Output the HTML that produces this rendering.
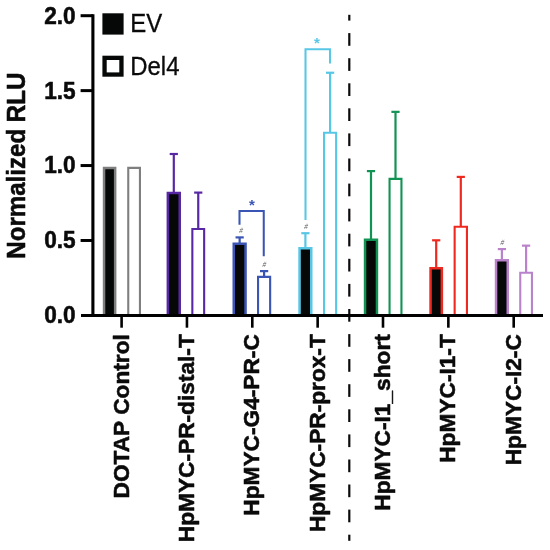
<!DOCTYPE html>
<html lang="en"><head><meta charset="utf-8"><title>Normalized RLU chart</title>
<style>html,body{margin:0;padding:0;background:#fff;}body{width:550px;height:550px;overflow:hidden;}svg{display:block;}text{font-family:"Liberation Sans",Arial,Helvetica,sans-serif;}.b{font-weight:bold;fill:#0a0a0a;stroke:#0a0a0a;stroke-width:0.55px;stroke-linejoin:round;}</style></head><body>
<svg width="550" height="550" viewBox="0 0 550 550">
<rect width="550" height="550" fill="#fff"/>
<path d="M104.05 315.4 V168.05 H115.15 V315.4" fill="#050807" stroke="#7f7f7f" stroke-width="2.5"/>
<path d="M128.25 315.4 V167.85 H139.95 V315.4" fill="#fff" stroke="#7f7f7f" stroke-width="2.1"/>
<line x1="173.80" y1="192.80" x2="173.80" y2="154.00" stroke="#5828a4" stroke-width="2.2"/>
<line x1="169.70" y1="154.00" x2="177.90" y2="154.00" stroke="#5828a4" stroke-width="2.2"/>
<path d="M167.85 315.4 V193.05 H179.75 V315.4" fill="#050807" stroke="#5828a4" stroke-width="2.5"/>
<line x1="198.25" y1="229.00" x2="198.25" y2="192.60" stroke="#5828a4" stroke-width="2.2"/>
<line x1="194.15" y1="192.60" x2="202.35" y2="192.60" stroke="#5828a4" stroke-width="2.2"/>
<path d="M192.35 315.4 V229.05 H204.15 V315.4" fill="#fff" stroke="#5828a4" stroke-width="2.1"/>
<line x1="239.65" y1="243.50" x2="239.65" y2="237.40" stroke="#3a55b4" stroke-width="2.2"/>
<line x1="235.55" y1="237.40" x2="243.75" y2="237.40" stroke="#3a55b4" stroke-width="2.2"/>
<path d="M233.75 315.4 V243.75 H245.55 V315.4" fill="#050807" stroke="#3a55b4" stroke-width="2.5"/>
<line x1="264.10" y1="276.80" x2="264.10" y2="271.10" stroke="#3a55b4" stroke-width="2.2"/>
<line x1="260.00" y1="271.10" x2="268.20" y2="271.10" stroke="#3a55b4" stroke-width="2.2"/>
<path d="M258.05 315.4 V276.85 H270.15 V315.4" fill="#fff" stroke="#3a55b4" stroke-width="2.1"/>
<line x1="305.40" y1="248.00" x2="305.40" y2="233.20" stroke="#58c6e5" stroke-width="2.2"/>
<line x1="301.30" y1="233.20" x2="309.50" y2="233.20" stroke="#58c6e5" stroke-width="2.2"/>
<path d="M299.55 315.4 V248.25 H311.25 V315.4" fill="#050807" stroke="#58c6e5" stroke-width="2.5"/>
<line x1="330.10" y1="132.70" x2="330.10" y2="72.75" stroke="#58c6e5" stroke-width="2.2"/>
<line x1="326.00" y1="72.75" x2="334.20" y2="72.75" stroke="#58c6e5" stroke-width="2.2"/>
<path d="M324.05 315.4 V132.75 H336.15 V315.4" fill="#fff" stroke="#58c6e5" stroke-width="2.1"/>
<line x1="371.00" y1="239.50" x2="371.00" y2="171.10" stroke="#119354" stroke-width="2.2"/>
<line x1="366.90" y1="171.10" x2="375.10" y2="171.10" stroke="#119354" stroke-width="2.2"/>
<path d="M365.05 315.4 V239.75 H376.95 V315.4" fill="#050807" stroke="#119354" stroke-width="2.5"/>
<line x1="395.50" y1="178.80" x2="395.50" y2="111.85" stroke="#119354" stroke-width="2.2"/>
<line x1="391.40" y1="111.85" x2="399.60" y2="111.85" stroke="#119354" stroke-width="2.2"/>
<path d="M389.55 315.4 V178.85 H401.45 V315.4" fill="#fff" stroke="#119354" stroke-width="2.1"/>
<line x1="436.20" y1="268.10" x2="436.20" y2="240.30" stroke="#ee2a20" stroke-width="2.2"/>
<line x1="432.10" y1="240.30" x2="440.30" y2="240.30" stroke="#ee2a20" stroke-width="2.2"/>
<path d="M430.55 315.4 V268.35 H441.85 V315.4" fill="#050807" stroke="#ee2a20" stroke-width="2.5"/>
<line x1="460.80" y1="226.70" x2="460.80" y2="176.90" stroke="#ee2a20" stroke-width="2.2"/>
<line x1="456.70" y1="176.90" x2="464.90" y2="176.90" stroke="#ee2a20" stroke-width="2.2"/>
<path d="M454.65 315.4 V226.75 H466.95 V315.4" fill="#fff" stroke="#ee2a20" stroke-width="2.1"/>
<line x1="501.90" y1="260.00" x2="501.90" y2="249.10" stroke="#b982cb" stroke-width="2.2"/>
<line x1="497.80" y1="249.10" x2="506.00" y2="249.10" stroke="#b982cb" stroke-width="2.2"/>
<path d="M496.05 315.4 V260.25 H507.75 V315.4" fill="#050807" stroke="#b982cb" stroke-width="2.5"/>
<line x1="526.10" y1="272.70" x2="526.10" y2="245.65" stroke="#b982cb" stroke-width="2.2"/>
<line x1="522.00" y1="245.65" x2="530.20" y2="245.65" stroke="#b982cb" stroke-width="2.2"/>
<path d="M520.25 315.4 V272.75 H531.95 V315.4" fill="#fff" stroke="#b982cb" stroke-width="2.1"/>
<path d="M239.5 224.8 V210.9 H263.75 V256.3" fill="none" stroke="#3a55b4" stroke-width="2.05"/>
<path d="M305.5 220.1 V49.25 H330 V63.4" fill="none" stroke="#58c6e5" stroke-width="2.05"/>
<text x="252.0" y="209.6" font-size="15" font-weight="bold" text-anchor="middle" fill="#3a55b4">*</text>
<text x="317.0" y="48.1" font-size="15" font-weight="bold" text-anchor="middle" fill="#58c6e5">*</text>
<text transform="translate(240.6 232.5) skewX(-12) scale(0.92 1.08)" font-size="7" font-style="italic" text-anchor="middle" fill="#5a5a5a">#</text>
<text transform="translate(263.8 266.5) skewX(-12) scale(0.92 1.08)" font-size="7" font-style="italic" text-anchor="middle" fill="#5a5a5a">#</text>
<text transform="translate(305.5 229.0) skewX(-12) scale(0.92 1.08)" font-size="7" font-style="italic" text-anchor="middle" fill="#5a5a5a">#</text>
<text transform="translate(501.8 245.3) skewX(-12) scale(0.92 1.08)" font-size="7" font-style="italic" text-anchor="middle" fill="#5f5363">#</text>
<line x1="349.3" y1="14.8" x2="349.3" y2="20.6" stroke="#0a0a0a" stroke-width="2.2"/>
<line x1="349.3" y1="33.1" x2="349.3" y2="45.8" stroke="#0a0a0a" stroke-width="2.2"/>
<line x1="349.3" y1="58.2" x2="349.3" y2="70.9" stroke="#0a0a0a" stroke-width="2.2"/>
<line x1="349.3" y1="83.3" x2="349.3" y2="96.0" stroke="#0a0a0a" stroke-width="2.2"/>
<line x1="349.3" y1="108.3" x2="349.3" y2="121.0" stroke="#0a0a0a" stroke-width="2.2"/>
<line x1="349.3" y1="133.4" x2="349.3" y2="146.1" stroke="#0a0a0a" stroke-width="2.2"/>
<line x1="349.3" y1="158.5" x2="349.3" y2="171.2" stroke="#0a0a0a" stroke-width="2.2"/>
<line x1="349.3" y1="183.6" x2="349.3" y2="196.3" stroke="#0a0a0a" stroke-width="2.2"/>
<line x1="349.3" y1="208.7" x2="349.3" y2="221.4" stroke="#0a0a0a" stroke-width="2.2"/>
<line x1="349.3" y1="233.7" x2="349.3" y2="246.4" stroke="#0a0a0a" stroke-width="2.2"/>
<line x1="349.3" y1="258.8" x2="349.3" y2="271.5" stroke="#0a0a0a" stroke-width="2.2"/>
<line x1="349.3" y1="283.9" x2="349.3" y2="296.6" stroke="#0a0a0a" stroke-width="2.2"/>
<line x1="349.3" y1="309.0" x2="349.3" y2="321.7" stroke="#0a0a0a" stroke-width="2.2"/>
<line x1="349.3" y1="334.1" x2="349.3" y2="346.8" stroke="#0a0a0a" stroke-width="2.2"/>
<line x1="349.3" y1="359.1" x2="349.3" y2="371.8" stroke="#0a0a0a" stroke-width="2.2"/>
<line x1="349.3" y1="384.2" x2="349.3" y2="396.9" stroke="#0a0a0a" stroke-width="2.2"/>
<line x1="349.3" y1="409.3" x2="349.3" y2="422.0" stroke="#0a0a0a" stroke-width="2.2"/>
<line x1="349.3" y1="434.4" x2="349.3" y2="447.1" stroke="#0a0a0a" stroke-width="2.2"/>
<line x1="349.3" y1="459.5" x2="349.3" y2="472.2" stroke="#0a0a0a" stroke-width="2.2"/>
<line x1="349.3" y1="484.5" x2="349.3" y2="497.2" stroke="#0a0a0a" stroke-width="2.2"/>
<line x1="349.3" y1="509.6" x2="349.3" y2="522.3" stroke="#0a0a0a" stroke-width="2.2"/>
<line x1="349.3" y1="534.7" x2="349.3" y2="540.8" stroke="#0a0a0a" stroke-width="2.2"/>
<line x1="92.9" y1="14.3" x2="92.9" y2="316.9" stroke="#000" stroke-width="3.1"/>
<line x1="81" y1="315.4" x2="543" y2="315.4" stroke="#000" stroke-width="3.0"/>
<line x1="80.6" y1="15.70" x2="92.9" y2="15.70" stroke="#000" stroke-width="3.0"/>
<text transform="translate(75.7 23.60) scale(0.975 1)" font-size="23.2" class="b" text-anchor="end">2.0</text>
<line x1="80.6" y1="90.62" x2="92.9" y2="90.62" stroke="#000" stroke-width="3.0"/>
<text transform="translate(75.7 98.53) scale(0.975 1)" font-size="23.2" class="b" text-anchor="end">1.5</text>
<line x1="80.6" y1="165.55" x2="92.9" y2="165.55" stroke="#000" stroke-width="3.0"/>
<text transform="translate(75.7 173.45) scale(0.975 1)" font-size="23.2" class="b" text-anchor="end">1.0</text>
<line x1="80.6" y1="240.47" x2="92.9" y2="240.47" stroke="#000" stroke-width="3.0"/>
<text transform="translate(75.7 248.37) scale(0.975 1)" font-size="23.2" class="b" text-anchor="end">0.5</text>
<text transform="translate(75.7 323.30) scale(0.975 1)" font-size="23.2" class="b" text-anchor="end">0.0</text>
<line x1="121.60" y1="315.4" x2="121.60" y2="327.7" stroke="#000" stroke-width="2.6"/>
<text transform="translate(128.70 334.2) rotate(-90)" font-size="22.7" class="b" text-anchor="end">DOTAP Control</text>
<line x1="186.95" y1="315.4" x2="186.95" y2="327.7" stroke="#000" stroke-width="2.6"/>
<text transform="translate(194.05 334.2) rotate(-90)" font-size="22.7" class="b" text-anchor="end">HpMYC-PR-distal-T</text>
<line x1="252.30" y1="315.4" x2="252.30" y2="327.7" stroke="#000" stroke-width="2.6"/>
<text transform="translate(259.40 334.2) rotate(-90)" font-size="22.7" class="b" text-anchor="end">HpMYC-G4-PR-C</text>
<line x1="317.65" y1="315.4" x2="317.65" y2="327.7" stroke="#000" stroke-width="2.6"/>
<text transform="translate(324.75 334.2) rotate(-90)" font-size="22.7" class="b" text-anchor="end">HpMYC-PR-prox-T</text>
<line x1="383.00" y1="315.4" x2="383.00" y2="327.7" stroke="#000" stroke-width="2.6"/>
<text transform="translate(390.10 334.2) rotate(-90)" font-size="22.7" class="b" text-anchor="end">HpMYC-I1_short</text>
<line x1="448.35" y1="315.4" x2="448.35" y2="327.7" stroke="#000" stroke-width="2.6"/>
<text transform="translate(455.45 334.2) rotate(-90)" font-size="22.7" class="b" text-anchor="end">HpMYC-I1-T</text>
<line x1="513.70" y1="315.4" x2="513.70" y2="327.7" stroke="#000" stroke-width="2.6"/>
<text transform="translate(520.80 334.2) rotate(-90)" font-size="22.7" class="b" text-anchor="end">HpMYC-I2-C</text>
<text transform="translate(25.0 165.7) rotate(-90) scale(1 1.05)" font-size="24.1" class="b" text-anchor="middle">Normalized RLU</text>
<rect x="102.4" y="13.3" width="21.2" height="21.3" fill="#050807"/>
<rect x="104.55" y="57.85" width="16.9" height="16.7" fill="#fff" stroke="#050807" stroke-width="4.3"/>
<text transform="translate(130.2 31.9) scale(0.99 1.045)" font-size="24.2" fill="#0a0a0a" stroke="#0a0a0a" stroke-width="0.3">EV</text>
<text transform="translate(130.2 74.6) scale(0.99 1.045)" font-size="24.2" fill="#0a0a0a" stroke="#0a0a0a" stroke-width="0.3">Del4</text>
</svg></body></html>
